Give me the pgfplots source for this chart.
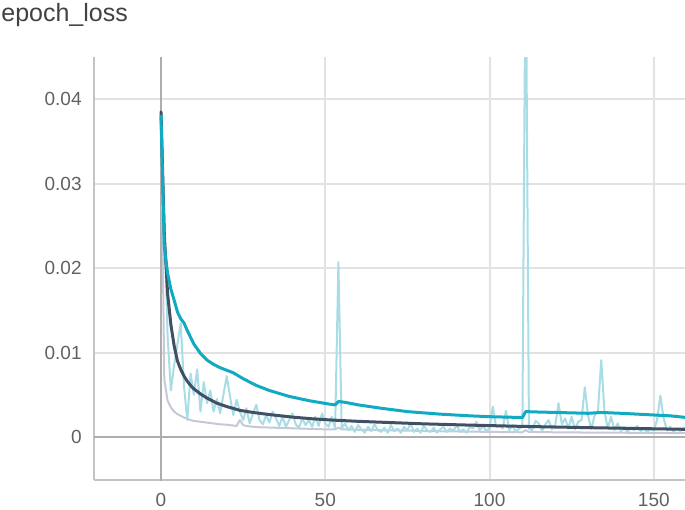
\documentclass[border=0pt]{standalone}
\usepackage{fontspec}
\setmainfont{Liberation Sans}
\usepackage{pgfplots}
\pgfplotsset{compat=1.18}

\definecolor{valraw}{HTML}{A8DDE5}
\definecolor{valsmooth}{HTML}{10AAC3}
\definecolor{trainraw}{HTML}{C5C9D6}
\definecolor{trainsmooth}{HTML}{425066}
\definecolor{gridgray}{HTML}{E2E2E2}
\definecolor{axisgray}{HTML}{C4C4C4}
\definecolor{zerogray}{HTML}{ADADAD}
\definecolor{labelgray}{HTML}{616161}
\definecolor{titlegray}{HTML}{424242}

\begin{document}
\begin{tikzpicture}
\begin{axis}[
    scale only axis,
    width=295.5pt, height=211.5pt,
    xmin=-20.4, xmax=159.5,
    ymin=-0.0051, ymax=0.045,
    scaled y ticks=false, scaled x ticks=false,
    axis x line*=bottom, axis y line*=left,
    axis line style={draw=axisgray, line width=1pt},
    xtick={0,50,100,150}, xticklabels={0,50,100,150},
    ytick={0,0.01,0.02,0.03,0.04}, yticklabels={0,0.01,0.02,0.03,0.04},
    major tick length=0pt,
    grid=major,
    grid style={draw=gridgray, line width=1pt},
    tick label style={font=\fontsize{9.5}{11}\selectfont, text=labelgray, inner sep=0pt},
    yticklabel style={anchor=east, xshift=-6pt},
    xticklabel style={anchor=north, yshift=-6.5pt},
    every axis plot/.append style={line join=round, line cap=round},
]

% zero lines
\addplot[draw=zerogray, line width=1.4pt] coordinates {(-30,0) (170,0)};
\addplot[draw=zerogray, line width=1.4pt] coordinates {(0,-0.01) (0,0.05)};

% train, raw
\addplot[draw=trainraw, line width=1pt] coordinates {
(0,0.0385) (1,0.0068) (2,0.0043) (3,0.0035) (4,0.003) (5,0.0027) (6,0.0025) (7,0.0023)
(8,0.00215) (9,0.002) (10,0.0019) (12,0.0018) (14,0.0017) (16,0.0016) (18,0.0015)
(20,0.00145) (22,0.00135) (23,0.0013) (24,0.002) (25,0.0014) (26,0.0013) (28,0.0012)
(30,0.00115) (34,0.0011) (38,0.00105) (42,0.001) (46,0.00095) (50,0.0009) (53,0.0009)
(54,0.0011) (55,0.0009) (60,0.00085) (65,0.0008) (70,0.00078) (75,0.00075) (80,0.0007)
(90,0.00065) (100,0.0006) (110,0.00055) (111,0.0008) (112,0.0006) (120,0.00055)
(130,0.00052) (140,0.0005) (150,0.00048) (160,0.00045)
};

% validation, raw
\addplot[draw=valraw, line width=1pt] coordinates {
(0,0.0383) (1,0.026) (2,0.012) (3,0.0055) (4,0.0085) (5,0.011) (6,0.0135) (7,0.006)
(8,0.002) (9,0.0075) (10,0.005) (11,0.008) (12,0.003) (13,0.0065) (14,0.004) (15,0.0055)
(16,0.003) (17,0.0045) (18,0.0028) (19,0.005) (20,0.0072) (21,0.0048) (22,0.0026)
(23,0.0044) (24,0.003) (25,0.002) (26,0.0034) (27,0.0016) (28,0.0028) (29,0.0038)
(30,0.002) (31,0.0015) (32,0.0026) (33,0.0017) (34,0.003) (35,0.0022) (36,0.0013)
(37,0.0024) (38,0.0012) (39,0.002) (40,0.0028) (41,0.0015) (42,0.0011) (43,0.0022)
(44,0.0014) (45,0.002) (46,0.0012) (47,0.0024) (48,0.0013) (49,0.0028) (50,0.0016)
(51,0.0012) (52,0.0024) (53,0.001) (54,0.0207) (55,0.001) (56,0.0016) (57,0.0008)
(58,0.0013) (59,0.0006) (60,0.0014) (61,0.0009) (62,0.0005) (63,0.0012) (64,0.0007)
(65,0.0015) (66,0.0008) (67,0.0006) (68,0.0011) (69,0.0005) (70,0.0014) (71,0.0007)
(72,0.001) (73,0.0005) (74,0.0012) (75,0.0008) (76,0.0016) (77,0.0006) (78,0.001)
(79,0.0005) (80,0.0013) (81,0.0008) (82,0.0006) (83,0.0011) (84,0.0005) (85,0.0009)
(86,0.0012) (87,0.0006) (88,0.001) (89,0.0007) (90,0.0014) (91,0.0006) (92,0.0009)
(93,0.0005) (94,0.0012) (95,0.001) (96,0.0018) (97,0.0008) (98,0.0013) (99,0.0007)
(100,0.001) (101,0.0036) (102,0.0012) (103,0.0014) (104,0.001) (105,0.0031) (106,0.0008)
(107,0.0014) (108,0.0006) (109,0.001) (110,0.0012) (111,0.06) (112,0.001) (113,0.0008)
(114,0.0019) (115,0.0016) (116,0.0007) (117,0.0015) (118,0.002) (119,0.0009) (120,0.0014)
(121,0.004) (122,0.0015) (123,0.0022) (124,0.001) (125,0.0024) (126,0.0009) (127,0.0018)
(128,0.002) (129,0.0059) (130,0.0025) (131,0.0009) (132,0.0026) (133,0.003) (134,0.0091)
(135,0.003) (136,0.001) (137,0.0024) (138,0.0008) (139,0.0016) (140,0.0007) (141,0.0012)
(142,0.0006) (143,0.0011) (144,0.0008) (145,0.0013) (146,0.0007) (147,0.001) (148,0.0006)
(149,0.0009) (150,0.0008) (151,0.002) (152,0.0049) (153,0.0022) (154,0.0008) (155,0.0012)
(156,0.0006) (157,0.001) (158,0.0007) (159,0.0011) (160,0.0009)
};

% train, smoothed
\addplot[draw=trainsmooth, line width=1.5pt] coordinates {
(0,0.0385) (1,0.024) (2,0.017) (3,0.0133) (4,0.0108) (5,0.009) (6,0.008) (7,0.0072)
(8,0.0066) (9,0.0061) (10,0.0057) (12,0.0051) (14,0.0046) (17,0.004) (20,0.0036)
(24,0.00315) (28,0.0029) (33,0.00265) (40,0.00235) (46,0.00215) (52,0.002) (60,0.00185)
(70,0.0017) (80,0.00155) (94,0.0014) (110,0.00125) (130,0.0011) (145,0.001) (160,0.0009)
};

% validation, smoothed
\addplot[draw=valsmooth, line width=1.5pt] coordinates {
(0,0.038) (1,0.0225) (2,0.0194) (3,0.0175) (4,0.0162) (5,0.0148) (6,0.014) (7,0.0135)
(8,0.0126) (9,0.0118) (10,0.011) (12,0.0099) (14,0.0091) (16,0.0086) (18,0.0082)
(20,0.0079) (22,0.0076) (25,0.0069) (29,0.0061) (33,0.0055) (39,0.0048) (45,0.0043)
(51,0.0039) (53,0.0038) (54,0.0042) (56,0.0041) (60,0.0038) (67,0.0034) (75,0.003)
(85,0.0027) (94,0.0025) (100,0.0024) (105,0.00235) (110,0.0023) (111,0.003) (115,0.00295)
(120,0.0029) (125,0.00285) (130,0.0028) (134,0.0029) (140,0.0028) (150,0.0026)
(155,0.0025) (160,0.0023)
};
\end{axis}
\node[anchor=base west, inner sep=0pt, font=\fontsize{12.5}{15}\selectfont, text=titlegray]
    at ([xshift=-46.5pt,yshift=18pt]current axis.north west) {epoch\_loss};
\pgfresetboundingbox
\path[use as bounding box] ([xshift=-47pt,yshift=-14.5pt]current axis.south west)
    rectangle ([yshift=28.5pt]current axis.north east);
\end{tikzpicture}
\end{document}
